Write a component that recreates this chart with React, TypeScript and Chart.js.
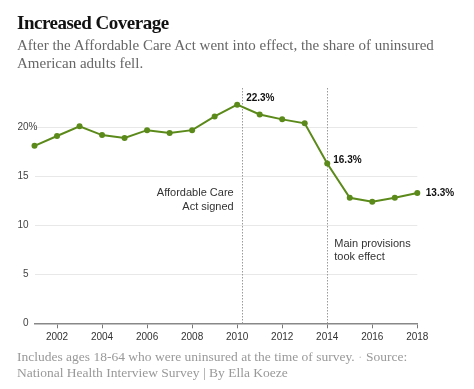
import React, { useEffect, useRef } from "react";
import { Chart, registerables } from "chart.js";

Chart.register(...registerables);

const years = [2001, 2002, 2003, 2004, 2005, 2006, 2007, 2008, 2009, 2010, 2011, 2012, 2013, 2014, 2015, 2016, 2017, 2018];
const uninsured = [18.1, 19.1, 20.1, 19.2, 18.9, 19.7, 19.4, 19.7, 21.1, 22.3, 21.3, 20.8, 20.4, 16.3, 12.8, 12.4, 12.8, 13.3];
const xTicks = [2002, 2004, 2006, 2008, 2010, 2012, 2014, 2016, 2018];
const yTicks = [0, 5, 10, 15, 20];
const yTickLabels = ["0", "5", "10", "15", "20"];
const labeledYears = [2010, 2014, 2018];
const eventLines = [2010.2, 2014];

const GREEN = "#5b8a1a";
const SANS = "'Liberation Sans', Arial, sans-serif";
const SERIF = "'Liberation Serif', 'Times New Roman', serif";

const overlayPlugin = {
  id: "overlay",
  beforeDatasetsDraw(chart: any) {
    const { ctx, chartArea, scales } = chart;
    const x = scales.x;
    ctx.save();
    ctx.strokeStyle = "#9a9a9a";
    ctx.lineWidth = 1;
    ctx.setLineDash([1.5, 1.5]);
    eventLines.forEach((yr) => {
      const px = Math.round(x.getPixelForValue(yr)) + 0.5;
      ctx.beginPath();
      ctx.moveTo(px, chartArea.top);
      ctx.lineTo(px, chartArea.bottom);
      ctx.stroke();
    });
    ctx.restore();
  },
  afterDraw(chart: any) {
    const { ctx, chartArea, scales } = chart;
    const x = scales.x;
    const y = scales.y;
    ctx.save();
    ctx.font = `10px ${SANS}`;
    ctx.fillStyle = "#444";
    ctx.textBaseline = "middle";
    yTicks.forEach((v, i) => {
      const py = y.getPixelForValue(v);
      ctx.textAlign = "right";
      const rx = chartArea.left - 6;
      ctx.fillText(yTickLabels[i], rx, py);
      if (i === yTicks.length - 1) {
        ctx.textAlign = "left";
        ctx.fillText("%", rx, py);
      }
    });
    ctx.font = `bold 10px ${SANS}`;
    ctx.fillStyle = "#111";
    ctx.textAlign = "left";
    const offs: Record<number, [number, number]> = { 2010: [9, -6], 2014: [6, -3.5], 2018: [8.5, 0] };
    labeledYears.forEach((yr) => {
      const i = years.indexOf(yr);
      const px = x.getPixelForValue(yr);
      const py = y.getPixelForValue(uninsured[i]);
      const [dx, dy] = offs[yr];
      ctx.fillText(uninsured[i].toFixed(1) + "%", px + dx, py + dy);
    });
    ctx.font = `11px ${SANS}`;
    ctx.fillStyle = "#333";
    const ax = x.getPixelForValue(eventLines[0]) - 8;
    ctx.textAlign = "right";
    ctx.fillText("Affordable Care", ax, y.getPixelForValue(13.3));
    ctx.fillText("Act signed", ax, y.getPixelForValue(11.9));
    const bx = x.getPixelForValue(eventLines[1]) + 7;
    ctx.textAlign = "left";
    ctx.fillText("Main provisions", bx, y.getPixelForValue(8.1));
    ctx.fillText("took effect", bx, y.getPixelForValue(6.75));
    ctx.restore();
  },
};

export default function App() {
  const ref = useRef<HTMLCanvasElement>(null);
  useEffect(() => {
    if (!ref.current) return;
    const chart = new Chart(ref.current, {
      type: "line",
      data: {
        datasets: [
          {
            data: years.map((yr, i) => ({ x: yr, y: uninsured[i] })),
            borderColor: GREEN,
            backgroundColor: GREEN,
            borderWidth: 2,
            pointRadius: 3,
            pointBorderWidth: 0,
            pointBackgroundColor: GREEN,
            tension: 0,
            clip: false,
          },
        ],
      },
      options: {
        responsive: false,
        animation: false,
        layout: { padding: { left: 34.5, right: 56.7, top: 88, bottom: 42.7 } },
        plugins: { legend: { display: false }, tooltip: { enabled: false } },
        scales: {
          x: {
            type: "linear",
            min: 2001,
            max: 2018,
            afterBuildTicks: (s: any) => {
              s.ticks = xTicks.map((v) => ({ value: v }));
            },
            grid: { drawOnChartArea: false, drawTicks: true, tickLength: 5, color: "#777", lineWidth: 1 },
            border: { display: true, color: "#888", width: 1.5 },
            ticks: {
              padding: 3,
              color: "#333",
              font: { family: SANS, size: 10 },
              callback: (v: any) => String(v),
            },
          },
          y: {
            min: 0,
            max: 24,
            afterBuildTicks: (s: any) => {
              s.ticks = yTicks.map((v) => ({ value: v }));
            },
            grid: {
              drawTicks: false,
              color: (c: any) => (c.tick && c.tick.value === 0 ? "rgba(0,0,0,0)" : "#e8e8e8"),
              lineWidth: 1,
            },
            border: { display: false },
            ticks: { display: false },
          },
        },
      },
      plugins: [overlayPlugin],
    } as any);
    return () => chart.destroy();
  }, []);

  return (
    <div style={{ position: "fixed", left: 0, top: 0, width: 474, height: 389, background: "#fff" }}>
      <canvas ref={ref} width={474} height={389} style={{ position: "absolute", left: 0, top: 0, width: 474, height: 389 }} />
      <div
        style={{
          position: "absolute",
          left: 17,
          top: 12,
          font: `bold 19px ${SERIF}`,
          lineHeight: "22px",
          letterSpacing: "-0.5px",
          color: "#121212",
          whiteSpace: "nowrap",
        }}
      >
        Increased Coverage
      </div>
      <div
        style={{
          position: "absolute",
          left: 17,
          top: 35.8,
          font: `15px ${SERIF}`,
          lineHeight: "18.3px",
          color: "#666",
          whiteSpace: "nowrap",
        }}
      >
        After the Affordable Care Act went into effect, the share of uninsured
        <br />
        American adults fell.
      </div>
      <div
        style={{
          position: "absolute",
          left: 17,
          top: 349.1,
          font: `13.5px ${SERIF}`,
          lineHeight: "16px",
          color: "#999",
          whiteSpace: "nowrap",
        }}
      >
        Includes ages 18-64 who were uninsured at the time of survey. <span style={{ color: "#ccc" }}>·</span> Source:
        <br />
        National Health Interview Survey | By Ella Koeze
      </div>
    </div>
  );
}
